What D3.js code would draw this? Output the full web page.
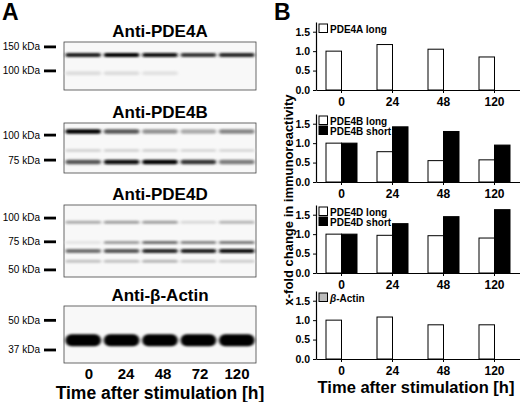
<!DOCTYPE html>
<html><head><meta charset="utf-8">
<script src="https://cdn.jsdelivr.net/npm/d3@7"></script>
<style>body{margin:0;background:#fff}svg{font-family:Arial,"Liberation Sans",sans-serif}</style>
</head><body><svg id="c" width="520" height="402"></svg>
<script>
// ---- Data: panel B bar charts ----
const times = ["0","24","48","120"];
const pde4aLong  = [1.0, 1.17, 1.05, 0.85];
const pde4bLong  = [1.0, 0.78, 0.55, 0.57];
const pde4bShort = [1.0, 1.42, 1.30, 0.95];
const pde4dLong  = [1.0, 0.97, 0.96, 0.90];
const pde4dShort = [1.0, 1.27, 1.45, 1.63];
const actin      = [1.0, 1.08, 0.88, 0.88];
const yTicks = [0, 0.5, 1.0, 1.5];
// ---- Data: panel A blots ----
const laneLabels = ["0","24","48","72","120"];
const blotTitles = ["Anti-PDE4A","Anti-PDE4B","Anti-PDE4D","Anti-β-Actin"];
const markersA = [["150 kDa",0.1],["100 kDa",0.6]];
const markersB = [["100 kDa",0.24],["75 kDa",0.74]];
const markersD = [["100 kDa",0.18],["75 kDa",0.51],["50 kDa",0.9]];
const markersAct = [["50 kDa",0.25],["37 kDa",0.77]];
// bands: [relative position, thickness, per-lane intensity]
const bandsA = [[0.27,4,[0.9,1,0.95,0.8,0.85]],[0.65,4,[0.08,0.08,0.06,0,0]]];
const bandsB = [[0.17,4.5,[1,0.65,0.4,0.3,0.45]],[0.55,3,[0.12,0.12,0.12,0.1,0.1]],[0.78,4.5,[0.65,0.95,1,0.8,0.5]]];
const bandsD = [[0.24,3,[0.3,0.35,0.35,0.1,0.25]],[0.52,3,[0.05,0.35,0.55,0.45,0.5]],[0.64,4,[0.55,0.65,0.85,0.9,0.95]],[0.78,3,[0.2,0.2,0.25,0.15,0.15]]];
const bandsAct = [[0.6,12,[1,1,1,1,1]]];

const svg = d3.select("#c");
const defs = svg.append("defs");
defs.append("filter").attr("id","blur").attr("x","-20%").attr("y","-200%").attr("width","140%").attr("height","500%")
  .append("feGaussianBlur").attr("stdDeviation","1.5 0.9");

svg.append("text").attr("x",2).attr("y",20).attr("font-size",23).attr("font-weight","bold").text("A");
svg.append("text").attr("x",274).attr("y",20).attr("font-size",23).attr("font-weight","bold").text("B");

// ---- Panel A ----
const lx = d3.scaleBand().domain(laneLabels).range([64,256]).paddingInner(0.02).paddingOuter(0.01);
const blots = [
  {t:blotTitles[0], y0:42, y1:90, m:markersA, b:bandsA},
  {t:blotTitles[1], y0:123, y1:173, m:markersB, b:bandsB},
  {t:blotTitles[2], y0:205, y1:277, m:markersD, b:bandsD},
  {t:blotTitles[3], y0:306, y1:363, m:markersAct, b:bandsAct}
];
blots.forEach(bl=>{
  const ys = d3.scaleLinear().domain([0,1]).range([bl.y0,bl.y1]);
  svg.append("text").attr("x",160).attr("y",bl.y0-5).attr("text-anchor","middle")
    .attr("font-size",17).attr("font-weight","bold").text(bl.t);
  const g = svg.append("g");
  g.append("rect").attr("x",64).attr("y",bl.y0).attr("width",192).attr("height",bl.y1-bl.y0)
    .attr("fill","#f8f8f8").attr("stroke","#444").attr("stroke-width",0.8);
  const bg = g.append("g").attr("filter","url(#blur)");
  bl.b.forEach(([p,th,vals])=>{
    vals.forEach((v,i)=>{
      if(v<=0) return;
      const x = lx(laneLabels[i]);
      const c = Math.round(240-235*v);
      bg.append("rect").attr("x",x+1).attr("y",ys(p)-th/2).attr("width",lx.bandwidth()-2)
        .attr("height",th).attr("rx",th/2).attr("fill",`rgb(${c},${c},${c})`);
    });
  });
  bl.m.forEach(([lab,p])=>{
    svg.append("text").attr("x",40).attr("y",ys(p)+3.5).attr("text-anchor","end")
      .attr("font-size",10).text(lab);
    svg.append("rect").attr("x",44).attr("y",ys(p)-1.3).attr("width",12).attr("height",2.8).attr("fill","#000");
  });
});
const laneLabelX = d3.scalePoint().domain(laneLabels).range([89,237]);
svg.selectAll(".ll").data(laneLabels).join("text").attr("x",d=>laneLabelX(d)).attr("y",379)
  .attr("text-anchor","middle").attr("font-size",15).attr("font-weight","bold").text(d=>d);
svg.append("text").attr("x",160).attr("y",399).attr("text-anchor","middle").attr("font-size",17.5)
  .attr("font-weight","bold").text("Time after stimulation [h]");

// ---- Panel B ----
const bx = d3.scaleBand().domain(times).range([316,520]);
const bw = 15.5;
const panels = [
  {base:90, s:[[pde4aLong,"#fff"]], leg:[["PDE4A long","#fff"]]},
  {base:182, s:[[pde4bLong,"#fff"],[pde4bShort,"#000"]], leg:[["PDE4B long","#fff"],["PDE4B short","#000"]]},
  {base:273, s:[[pde4dLong,"#fff"],[pde4dShort,"#000"]], leg:[["PDE4D long","#fff"],["PDE4D short","#000"]]},
  {base:359, s:[[actin,"#fff"]], leg:[["β-Actin","#bbb"]]}
];
panels.forEach(p=>{
  const y = d3.scaleLinear().domain([0,1.75]).range([p.base,p.base-68]);
  const g = svg.append("g");
  g.append("g").attr("transform",`translate(316,0)`)
    .call(d3.axisLeft(y).tickValues(yTicks).tickFormat(d3.format(".1f")).tickSize(3).tickSizeOuter(0))
    .call(a=>{a.selectAll("text").attr("font-size",10.5).attr("font-weight","bold").attr("font-family","Arial");a.select(".domain").attr("stroke-width",1.2);});
  g.append("g").attr("transform",`translate(0,${p.base})`)
    .call(d3.axisBottom(bx).tickSize(3).tickSizeOuter(0))
    .call(a=>{a.selectAll("text").attr("font-size",12).attr("font-weight","bold").attr("font-family","Arial").attr("dy","0.85em");a.select(".domain").attr("stroke-width",1.2);});
  p.s.forEach(([vals,fill],si)=>{
    g.selectAll(null).data(vals).join("rect")
      .attr("x",(d,i)=>bx(times[i])+bx.bandwidth()/2+(si===0?-bw:0))
      .attr("y",d=>y(d)).attr("width",bw).attr("height",d=>p.base-y(d))
      .attr("fill",fill).attr("stroke","#000").attr("stroke-width",1);
  });
  p.leg.forEach(([lab,fill],i)=>{
    const ly = p.base-66+i*10;
    g.append("rect").attr("x",319).attr("y",ly).attr("width",8.5).attr("height",8.5).attr("fill",fill).attr("stroke","#000");
    const t = g.append("text").attr("x",330).attr("y",ly+8.5).attr("font-size",10).attr("font-weight","bold");
    if(lab.startsWith("β")){t.append("tspan").attr("font-style","italic").text("β");t.append("tspan").text("-Actin");}
    else t.text(lab);
  });
});
svg.append("text").attr("transform","translate(293,200) rotate(-90)").attr("text-anchor","middle")
  .attr("font-size",13).attr("font-weight","bold").text("x-fold change in immunoreactivity");
svg.append("text").attr("x",416).attr("y",393).attr("text-anchor","middle").attr("font-size",16.5)
  .attr("font-weight","bold").text("Time after stimulation [h]");
</script></body></html>
